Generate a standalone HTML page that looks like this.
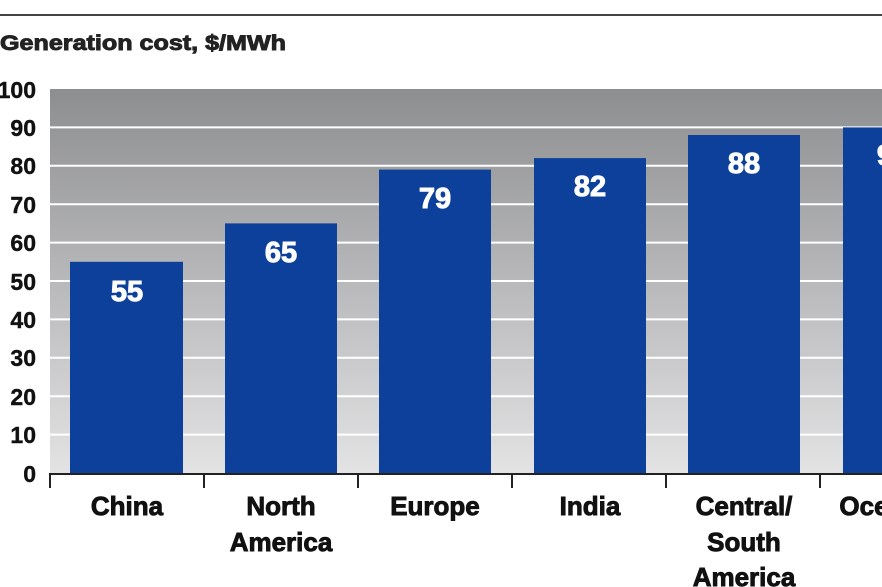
<!DOCTYPE html>
<html><head><style>body{margin:0;background:#fff}svg{display:block}text{font-family:"Liberation Sans",sans-serif;font-weight:bold}</style></head>
<body>
<svg width="882" height="587" viewBox="0 0 882 587">
<defs><linearGradient id="g" x1="0" y1="0" x2="0" y2="1"><stop offset="0" stop-color="#8d8e90"/><stop offset="1" stop-color="#e3e3e4"/></linearGradient></defs>
<rect x="0" y="14" width="882" height="2" fill="#444"/>
<text x="0" y="50" font-size="21" fill="#222" stroke="#222" stroke-width="0.9" textLength="286" lengthAdjust="spacingAndGlyphs">Generation cost, $/MWh</text>
<rect x="50" y="89" width="832" height="384" fill="url(#g)"/>
<g stroke="#fff" stroke-width="2">
<line x1="50" x2="882" y1="434.6" y2="434.6"/><line x1="50" x2="882" y1="396.2" y2="396.2"/>
<line x1="50" x2="882" y1="357.8" y2="357.8"/><line x1="50" x2="882" y1="319.4" y2="319.4"/>
<line x1="50" x2="882" y1="281" y2="281"/><line x1="50" x2="882" y1="242.6" y2="242.6"/>
<line x1="50" x2="882" y1="204.2" y2="204.2"/><line x1="50" x2="882" y1="165.8" y2="165.8"/>
<line x1="50" x2="882" y1="127.4" y2="127.4"/></g>
<g font-size="23" fill="#111" text-anchor="end" stroke="#111" stroke-width="0.4">
<text x="36" y="482">0</text><text x="36" y="443">10</text><text x="36" y="405">20</text>
<text x="36" y="366">30</text><text x="36" y="328">40</text><text x="36" y="290">50</text>
<text x="36" y="251">60</text><text x="36" y="213">70</text><text x="36" y="174">80</text>
<text x="36" y="136">90</text><text x="36" y="98">100</text></g>
<g fill="#0c409a">
<rect x="70" y="261.8" width="113" height="211.2"/>
<rect x="225" y="223.4" width="112" height="249.6"/>
<rect x="379" y="169.6" width="112" height="303.4"/>
<rect x="534" y="158.1" width="112" height="314.9"/>
<rect x="688" y="135" width="112" height="338"/>
<rect x="843" y="127.4" width="50" height="345.6"/></g>
<g font-size="29" fill="#fff" text-anchor="middle" stroke="#fff" stroke-width="1">
<text x="127" y="301">55</text><text x="281" y="262">65</text><text x="435" y="208">79</text>
<text x="590" y="196">82</text><text x="744" y="173">88</text><text x="893" y="165">90</text></g>
<g stroke="#222" stroke-width="2">
<line x1="50" x2="882" y1="474" y2="474"/>
<line x1="50" x2="50" y1="473" y2="488"/><line x1="204" x2="204" y1="473" y2="488"/>
<line x1="358" x2="358" y1="473" y2="488"/><line x1="512" x2="512" y1="473" y2="488"/>
<line x1="666" x2="666" y1="473" y2="488"/><line x1="820" x2="820" y1="473" y2="488"/></g>
<g font-size="26" fill="#111" text-anchor="middle" stroke="#111" stroke-width="0.9">
<text x="127" y="515">China</text>
<text x="281" y="515">North</text><text x="281" y="551">America</text>
<text x="435" y="515">Europe</text>
<text x="590" y="515">India</text>
<text x="744" y="515">Central/</text><text x="744" y="551">South</text><text x="744" y="586">America</text>
<text x="890" y="515">Oceania</text></g>
</svg>
</body></html>
